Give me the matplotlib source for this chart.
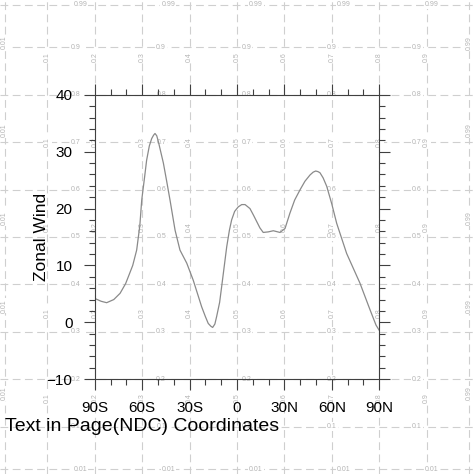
import matplotlib
matplotlib.use('Agg')
import matplotlib.pyplot as plt

plt.rcParams['font.family'] = ['Liberation Sans', 'DejaVu Sans']

# zonal wind
lat = [-90, -86.0, -82.5, -78.0, -74.0, -70.5, -68.8, -66.0, -63.5, -61.5, -60.3, -58.5,
       -57.2, -55.5, -54.0, -52.8, -51.9, -50.8, -49.8, -46.6, -44.5,
       -42.4, -39.2, -36.1, -31.8, -27.7, -24.5, -22.4, -20.0, -18.2, -16.5, -15.4, -14.0,
       -12.9, -11.0, -9.7, -6.5, -4.8, -3.4, -1.5,
       0.8, 3.0, 5.1, 8.2, 10.5, 12.5, 14.5, 16.6, 19.8, 23.0, 27.2, 30.4, 33.5, 36.5, 39.9,
       43.0, 46.2, 48.2, 49.8, 51.2, 52.5, 54.5, 56.8, 60.0, 63.1, 69.4, 77.8, 84.2, 88.0, 90]
u = [4.2, 3.7, 3.45, 4.0, 5.1, 6.8, 8.0, 10.0, 12.7, 17.0, 21.5, 25.5,
     28.5, 31.0, 32.3, 32.9, 33.2, 32.8, 31.8, 28.0, 24.8,
     21.5, 16.2, 12.7, 10.4, 7.4, 4.6, 2.75, 1.0, -0.2, -0.7, -0.9, -0.3,
     1.0, 3.5, 6.3, 13.3, 16.2, 18.0, 19.5,
     20.3, 20.7, 20.7, 20.0, 18.8, 17.7, 16.6, 15.8, 15.9, 16.1, 15.8, 16.5, 19.2, 21.5, 23.3,
     24.8, 25.9, 26.4, 26.6, 26.5, 26.3, 25.4, 23.9, 20.8, 17.4, 12.1, 6.9, 2.2, -0.5, -1.4]

xticks = [-90, -60, -30, 0, 30, 60, 90]
xlabels = ['90S', '60S', '30S', '0', '30N', '60N', '90N']
yticks = [-10, 0, 10, 20, 30, 40]

# NDC grid
grid_pos = [0.01, 0.1, 0.2, 0.3, 0.4, 0.5, 0.6, 0.7, 0.8, 0.9, 0.99]
grid_txt = ['0.01', '0.1', '0.2', '0.3', '0.4', '0.5', '0.6', '0.7', '0.8', '0.9', '0.99']
lab_inner = [0.16, 0.34, 0.52, 0.70, 0.88]
lab_edge = [0.17, 0.355, 0.54, 0.725, 0.91]

fig = plt.figure(figsize=(4.74, 4.74), dpi=100)

bg = fig.add_axes([0, 0, 1, 1], zorder=-1)
bg.set_xlim(0, 1)
bg.set_ylim(0, 1)
bg.axis('off')
gcol = '#cfcfcf'
tcol = '#b4b4b4'
for p, t in zip(grid_pos, grid_txt):
    bg.plot([0, 1], [p, p], ls=(0, (7, 4)), color=gcol, lw=0.8)
    bg.plot([p, p], [0, 1], ls=(0, (7, 4)), color=gcol, lw=0.8)
    where = lab_edge if t in ('0.01', '0.99') else lab_inner
    for q in where:
        bg.text(q, p, t, fontsize=5, color=tcol, ha='center', va='center',
                bbox=dict(fc='white', ec='none', pad=0.6))
        bg.text(p, q, t, fontsize=5, color=tcol, ha='center', va='center', rotation=90,
                bbox=dict(fc='white', ec='none', pad=0.6))

ax = fig.add_axes([0.2, 0.2, 0.6, 0.6])
ax.patch.set_alpha(0)
ax.plot(lat, u, color='#8a8a8a', lw=0.9)
ax.set_xlim(-90, 90)
ax.set_ylim(-10, 40)
ax.set_xticks(xticks)
ax.set_xticklabels(xlabels)
ax.set_yticks(yticks)
ax.set_xticks(range(-90, 91, 10), minor=True)
ax.set_yticks(range(-10, 41, 2), minor=True)
ax.tick_params(which='both', direction='out', top=True, right=True, color='#404040', width=0.8)
ax.tick_params(which='major', length=8, pad=8, labelsize=11)
ax.tick_params(which='minor', length=4)
for s in ax.spines.values():
    s.set_color('#404040')
    s.set_linewidth(0.8)
ax.set_ylabel('Zonal Wind', fontsize=12.5)
ax.yaxis.set_label_coords(-0.16, 0.5)

fig.text(0.01, 0.1, 'Text in Page(NDC) Coordinates', fontsize=14, ha='left', va='center')

fig.savefig('out.png', dpi=100)
